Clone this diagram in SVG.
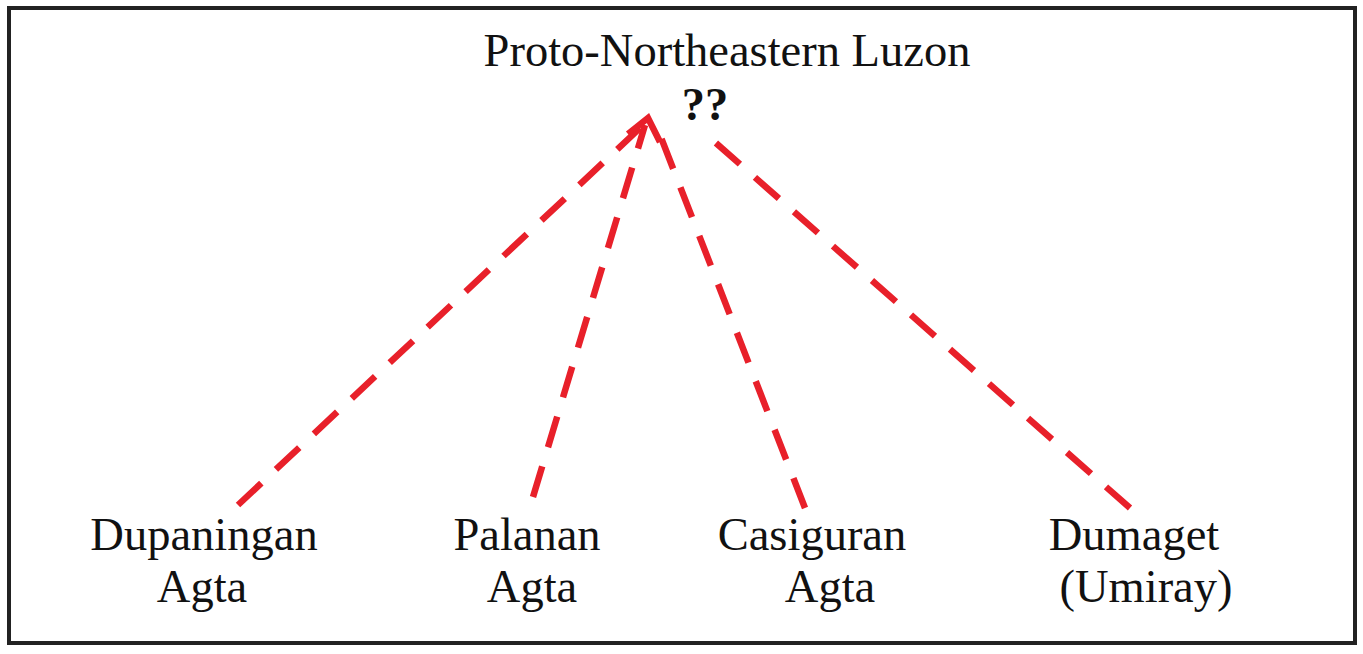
<svg xmlns="http://www.w3.org/2000/svg" width="1363" height="654" viewBox="0 0 1363 654">
<style>
text{font-family:"Liberation Serif","Times New Roman",serif;font-size:46.5px;fill:#111;text-anchor:middle}
.b{font-weight:bold}
.c{fill:none;stroke:#e8202a;stroke-width:6.5;stroke-dasharray:32 20}
.h{fill:none;stroke:#e8202a;stroke-width:6.5;stroke-linecap:butt}
</style>
<rect x="9" y="8" width="1346" height="635" fill="#fff" stroke="#222" stroke-width="4"/>
<g id="root"><text x="727" y="66">Proto-Northeastern Luzon</text><text class="b" x="705" y="120">??</text></g>
<g id="dupaningan"><text x="204" y="550">Dupaningan</text><text x="202" y="602">Agta</text></g>
<g id="palanan"><text x="527" y="550">Palanan</text><text x="532" y="602">Agta</text></g>
<g id="casiguran"><text x="812" y="550">Casiguran</text><text x="830" y="602">Agta</text></g>
<g id="dumaget"><text x="1134" y="550">Dumaget</text><text x="1146" y="602">(Umiray)</text></g>
<g id="connectors">
<line class="c" x1="238" y1="505" x2="640" y2="128"/>
<line class="c" x1="533" y1="497" x2="645" y2="125"/>
<line class="c" x1="805" y1="508" x2="655" y2="122"/>
<line class="c" x1="1130" y1="508" x2="708" y2="136"/>
<polyline class="h" points="628,134 648,118 660,142"/>
</g>
</svg>
